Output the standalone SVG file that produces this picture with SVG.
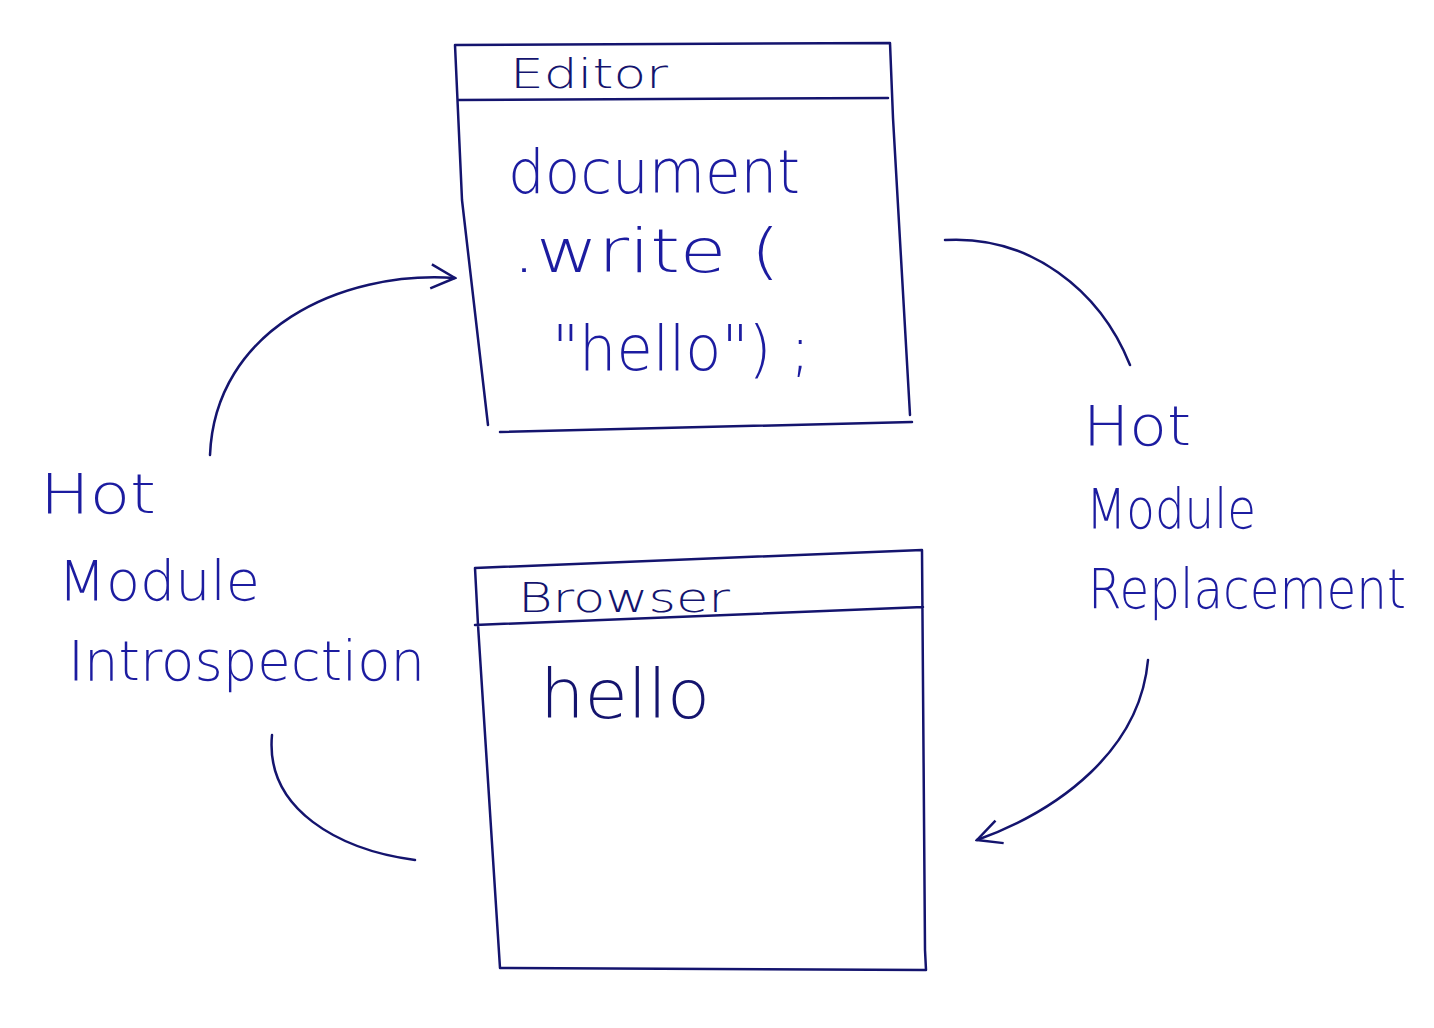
<svg xmlns="http://www.w3.org/2000/svg" width="1434" height="1028" viewBox="0 0 1434 1028">
<defs>
<style>
.ln{fill:none;stroke:#14146e;stroke-width:2.5;stroke-linecap:round;stroke-linejoin:round}
.t{fill:#1c1ca0;font-family:"DejaVu Sans",sans-serif;font-weight:300}
.k{fill:#14146e;font-family:"DejaVu Sans",sans-serif;font-weight:300}
</style>
<marker id="ah" viewBox="0 0 30 30" refX="28" refY="15" markerWidth="30" markerHeight="30" markerUnits="userSpaceOnUse" orient="auto">
<path d="M4,3 L28,15 L4,27" fill="none" stroke="#14146e" stroke-width="2.5"/>
</marker>
</defs>
<rect width="1434" height="1028" fill="#fff"/>
<g id="editor">
<path class="ln" d="M455,45 L890,43 L893,118 L910,415 M455,45 L462,200 L488,425 M500,432 L912,422 M458,100 L888,98"/>
<text class="k" x="510" y="88" font-size="40" textLength="158" lengthAdjust="spacingAndGlyphs">Editor</text>
<text class="t" x="508" y="193" font-size="60" textLength="292" lengthAdjust="spacingAndGlyphs">document</text>
<text class="t" x="512" y="272" font-size="60" textLength="268" lengthAdjust="spacingAndGlyphs">.write (</text>
<text class="t" x="552" y="370" font-size="62" textLength="258" lengthAdjust="spacingAndGlyphs">"hello") ;</text>
</g>
<g id="browser">
<path class="ln" d="M475,568 L922,550 L925,950 M475,568 L478,625 L500,968 L926,970 L925,950 M475,625 L923,607"/>
<text class="k" x="518" y="612" font-size="40" textLength="212" lengthAdjust="spacingAndGlyphs">Browser</text>
<text class="k" x="540" y="718" font-size="68" textLength="170" lengthAdjust="spacingAndGlyphs">hello</text>
</g>
<g id="hmi">
<text class="t" x="40" y="513" font-size="56" textLength="116" lengthAdjust="spacingAndGlyphs">Hot</text>
<text class="t" x="58" y="600" font-size="56" textLength="202" lengthAdjust="spacingAndGlyphs">Module</text>
<text class="t" x="68" y="680" font-size="56" textLength="357" lengthAdjust="spacingAndGlyphs">Introspection</text>
</g>
<g id="hmr">
<text class="t" x="1083" y="445" font-size="56" textLength="108" lengthAdjust="spacingAndGlyphs">Hot</text>
<text class="t" x="1086" y="528" font-size="56" textLength="170" lengthAdjust="spacingAndGlyphs">Module</text>
<text class="t" x="1088" y="608" font-size="56" textLength="318" lengthAdjust="spacingAndGlyphs">Replacement</text>
</g>
<g id="connectors">
<path class="ln" d="M210,455 C215,330 340,270 455,278" marker-end="url(#ah)"/>
<path class="ln" d="M945,240 C1030,235 1100,290 1130,365"/>
<path class="ln" d="M1148,660 C1140,750 1060,810 977,840" marker-end="url(#ah)"/>
<path class="ln" d="M272,735 C265,810 340,850 415,860"/>
</g>
</svg>
